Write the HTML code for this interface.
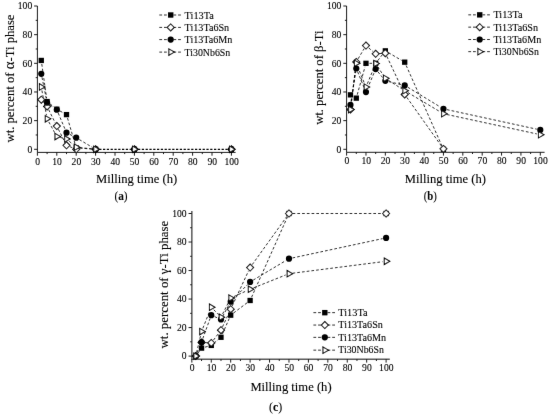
<!DOCTYPE html>
<html lang="en">
<head>
<meta charset="utf-8">
<title>Figure: wt. percent of Ti phases vs milling time</title>
<style>
html,body{margin:0;padding:0;background:#fff;}
body{width:550px;height:415px;overflow:hidden;}
svg{display:block;}
svg text{font-family:"Liberation Serif", "DejaVu Serif", serif;fill:#000;}
</style>
</head>
<body>
<svg width="550" height="415" viewBox="0 0 550 415">
<defs><filter id="soft" x="0" y="0" width="550" height="415" filterUnits="userSpaceOnUse"><feConvolveMatrix order="3" kernelMatrix="0.005 0.045 0.005 0.045 0.8 0.045 0.005 0.045 0.005" edgeMode="none" preserveAlpha="false"/></filter></defs>
<rect width="550" height="415" fill="#fff"/>
<g filter="url(#soft)">
<g id="chart-a">
<g stroke="#000" stroke-width="0.9" fill="none">
<path d="M37.4 6V152.4H235.6"/>
<path d="M37.4 149.3h-3.3M37.4 134.97h-1.7M37.4 120.64h-3.3M37.4 106.31h-1.7M37.4 91.98h-3.3M37.4 77.65h-1.7M37.4 63.32h-3.3M37.4 48.99h-1.7M37.4 34.66h-3.3M37.4 20.33h-1.7M37.4 6h-3.3M37.4 152.4v3.3M47.1 152.4v1.7M56.8 152.4v3.3M66.5 152.4v1.7M76.2 152.4v3.3M85.9 152.4v1.7M95.6 152.4v3.3M105.3 152.4v1.7M115 152.4v3.3M124.7 152.4v1.7M134.4 152.4v3.3M144.1 152.4v1.7M153.8 152.4v3.3M163.5 152.4v1.7M173.2 152.4v3.3M182.9 152.4v1.7M192.6 152.4v3.3M202.3 152.4v1.7M212 152.4v3.3M221.7 152.4v1.7M231.4 152.4v3.3"/>
</g>
<g font-size="9.6" stroke="#000" stroke-width="0.1">
<text transform="translate(32.2 152.65) scale(1 1.08)" text-anchor="end">0</text>
<text transform="translate(32.2 123.99) scale(1 1.08)" text-anchor="end">20</text>
<text transform="translate(32.2 95.33) scale(1 1.08)" text-anchor="end">40</text>
<text transform="translate(32.2 66.67) scale(1 1.08)" text-anchor="end">60</text>
<text transform="translate(32.2 38.01) scale(1 1.08)" text-anchor="end">80</text>
<text transform="translate(32.2 9.35) scale(1 1.08)" text-anchor="end">100</text>
<text transform="translate(37.6 164.5) scale(1 1.08)" text-anchor="middle">0</text>
<text transform="translate(57 164.5) scale(1 1.08)" text-anchor="middle">10</text>
<text transform="translate(76.4 164.5) scale(1 1.08)" text-anchor="middle">20</text>
<text transform="translate(95.8 164.5) scale(1 1.08)" text-anchor="middle">30</text>
<text transform="translate(115.2 164.5) scale(1 1.08)" text-anchor="middle">40</text>
<text transform="translate(134.6 164.5) scale(1 1.08)" text-anchor="middle">50</text>
<text transform="translate(154 164.5) scale(1 1.08)" text-anchor="middle">60</text>
<text transform="translate(173.4 164.5) scale(1 1.08)" text-anchor="middle">70</text>
<text transform="translate(192.8 164.5) scale(1 1.08)" text-anchor="middle">80</text>
<text transform="translate(212.2 164.5) scale(1 1.08)" text-anchor="middle">90</text>
<text transform="translate(231.6 164.5) scale(1 1.08)" text-anchor="middle">100</text>
</g>
<text transform="translate(13.9 78.5) rotate(-90)" font-size="12.6" text-anchor="middle" textLength="128" lengthAdjust="spacingAndGlyphs" stroke="#000" stroke-width="0.12">wt. percent of <tspan font-size="14.6">α</tspan>-Ti phase</text>
<text x="136.6" y="183.4" font-size="12.6" text-anchor="middle" textLength="81.2" lengthAdjust="spacingAndGlyphs" stroke="#000" stroke-width="0.12">Milling time (h)</text>
<text x="121" y="200" font-size="12" text-anchor="middle" textLength="13.2" lengthAdjust="spacingAndGlyphs" stroke="#000" stroke-width="0.08">(<tspan font-weight="bold">a</tspan>)</text>
<g fill="none" stroke="#000" stroke-width="0.82" stroke-dasharray="2.7 2.05">
<path d="M41.78 64.02L46.6 98.02"/>
<path d="M49.93 103.8L53.97 106.96"/>
<path d="M59.94 110.94L63.36 112.86"/>
<path d="M67.51 118.08L75.19 144.41"/>
<path d="M79.79 148.13L92.01 149.03"/>
</g>
<rect x="38.63" y="57.8" width="5.3" height="5.3" fill="#000"/>
<rect x="44.45" y="98.93" width="5.3" height="5.3" fill="#000"/>
<rect x="54.15" y="106.53" width="5.3" height="5.3" fill="#000"/>
<rect x="63.85" y="111.97" width="5.3" height="5.3" fill="#000"/>
<rect x="73.55" y="145.22" width="5.3" height="5.3" fill="#000"/>
<rect x="92.95" y="146.65" width="5.3" height="5.3" fill="#000"/>
<rect x="131.75" y="146.65" width="5.3" height="5.3" fill="#000"/>
<rect x="228.75" y="146.65" width="5.3" height="5.3" fill="#000"/>
<g fill="none" stroke="#000" stroke-width="0.82" stroke-dasharray="2.7 2.05">
<path d="M43.63 102.44L44.75 103.73"/>
<path d="M48.69 109.68L55.21 122.86"/>
<path d="M58.42 129.3L64.88 142.07"/>
<path d="M69.83 146.66L72.87 147.92"/>
</g>
<path d="M37.78 99.72L41.28 96.22L44.78 99.72L41.28 103.22Z" fill="#fff" stroke="#000" stroke-width="1.05"/>
<path d="M43.6 106.45L47.1 102.95L50.6 106.45L47.1 109.95Z" fill="#fff" stroke="#000" stroke-width="1.05"/>
<path d="M53.3 126.09L56.8 122.59L60.3 126.09L56.8 129.59Z" fill="#fff" stroke="#000" stroke-width="1.05"/>
<path d="M63 145.29L66.5 141.79L70 145.29L66.5 148.79Z" fill="#fff" stroke="#000" stroke-width="1.05"/>
<path d="M72.7 149.3L76.2 145.8L79.7 149.3L76.2 152.8Z" fill="#fff" stroke="#000" stroke-width="1.05"/>
<path d="M92.1 149.3L95.6 145.8L99.1 149.3L95.6 152.8Z" fill="#fff" stroke="#000" stroke-width="1.05"/>
<path d="M130.9 149.3L134.4 145.8L137.9 149.3L134.4 152.8Z" fill="#fff" stroke="#000" stroke-width="1.05"/>
<path d="M227.9 149.3L231.4 145.8L234.9 149.3L231.4 152.8Z" fill="#fff" stroke="#000" stroke-width="1.05"/>
<g fill="none" stroke="#000" stroke-width="0.82" stroke-dasharray="2.7 2.05">
<path d="M41.99 77.31L46.39 99.2"/>
<path d="M50.02 104.84L53.88 107.64"/>
<path d="M58.2 113.06L65.1 129.36"/>
<path d="M69.7 134.33L73 136.04"/>
<path d="M79.29 139.54L92.51 147.45"/>
</g>
<circle cx="41.28" cy="73.78" r="3.1" fill="#000"/>
<circle cx="47.1" cy="102.73" r="3.1" fill="#000"/>
<circle cx="56.8" cy="109.75" r="3.1" fill="#000"/>
<circle cx="66.5" cy="132.68" r="3.1" fill="#000"/>
<circle cx="76.2" cy="137.69" r="3.1" fill="#000"/>
<circle cx="95.6" cy="149.3" r="3.1" fill="#000"/>
<circle cx="134.4" cy="149.3" r="3.1" fill="#000"/>
<circle cx="231.4" cy="149.3" r="3.1" fill="#000"/>
<g fill="none" stroke="#000" stroke-width="0.82" stroke-dasharray="2.7 2.05">
<path d="M41.93 90.51L46.45 115.24"/>
<path d="M48.82 121.94L55.08 133.39"/>
<path d="M60.29 137.42L63.01 138.11"/>
<path d="M69.25 141.3L73.45 144.83"/>
<path d="M79.78 147.55L92.02 148.9"/>
<path d="M99.2 149.3L130.8 149.3" stroke-dasharray="2.25 1.55" stroke-width="1.15"/>
<path d="M138 149.3L227.8 149.3" stroke-dasharray="2.25 1.55" stroke-width="1.15"/>
</g>
<path d="M39.43 83.76L44.98 86.96L39.43 90.16Z" fill="#fff" stroke="#000" stroke-width="1.05" stroke-linejoin="miter"/>
<path d="M45.25 115.58L50.8 118.78L45.25 121.98Z" fill="#fff" stroke="#000" stroke-width="1.05" stroke-linejoin="miter"/>
<path d="M54.95 133.35L60.5 136.55L54.95 139.75Z" fill="#fff" stroke="#000" stroke-width="1.05" stroke-linejoin="miter"/>
<path d="M64.65 135.78L70.2 138.98L64.65 142.18Z" fill="#fff" stroke="#000" stroke-width="1.05" stroke-linejoin="miter"/>
<path d="M74.35 143.95L79.9 147.15L74.35 150.35Z" fill="#fff" stroke="#000" stroke-width="1.05" stroke-linejoin="miter"/>
<path d="M93.75 146.1L99.3 149.3L93.75 152.5Z" fill="#fff" stroke="#000" stroke-width="1.05" stroke-linejoin="miter"/>
<path d="M132.55 146.1L138.1 149.3L132.55 152.5Z" fill="#fff" stroke="#000" stroke-width="1.05" stroke-linejoin="miter"/>
<path d="M229.55 146.1L235.1 149.3L229.55 152.5Z" fill="#fff" stroke="#000" stroke-width="1.05" stroke-linejoin="miter"/>
<g font-size="10.2" stroke="#000" stroke-width="0.1">
<path d="M159.3 15H181.1" stroke-dasharray="2.8 1.9" stroke="#000" stroke-width="0.82" fill="none"/>
<rect x="168.05" y="12.35" width="5.3" height="5.3" fill="#000"/>
<text transform="translate(184.6 18.6)" textLength="29.3" lengthAdjust="spacingAndGlyphs">Ti13Ta</text>
<path d="M159.3 27.4H181.1" stroke-dasharray="2.8 1.9" stroke="#000" stroke-width="0.82" fill="none"/>
<path d="M167.2 27.4L170.7 23.9L174.2 27.4L170.7 30.9Z" fill="#fff" stroke="#000" stroke-width="1.05"/>
<text transform="translate(184.6 31)" textLength="44.6" lengthAdjust="spacingAndGlyphs">Ti13Ta6Sn</text>
<path d="M159.3 39.6H181.1" stroke-dasharray="2.8 1.9" stroke="#000" stroke-width="0.82" fill="none"/>
<circle cx="170.7" cy="39.6" r="3.1" fill="#000"/>
<text transform="translate(184.6 43.2)" textLength="47.8" lengthAdjust="spacingAndGlyphs">Ti13Ta6Mn</text>
<path d="M159.3 52.1H181.1" stroke-dasharray="2.8 1.9" stroke="#000" stroke-width="0.82" fill="none"/>
<path d="M168.85 48.9L174.4 52.1L168.85 55.3Z" fill="#fff" stroke="#000" stroke-width="1.05" stroke-linejoin="miter"/>
<text transform="translate(184.6 55.7)" textLength="45.6" lengthAdjust="spacingAndGlyphs">Ti30Nb6Sn</text>
</g>
</g>
<g id="chart-b">
<g stroke="#000" stroke-width="0.9" fill="none">
<path d="M346.6 6V152.3H544.6"/>
<path d="M346.6 149.3h-3.3M346.6 134.97h-1.7M346.6 120.64h-3.3M346.6 106.31h-1.7M346.6 91.98h-3.3M346.6 77.65h-1.7M346.6 63.32h-3.3M346.6 48.99h-1.7M346.6 34.66h-3.3M346.6 20.33h-1.7M346.6 6h-3.3M346.6 152.3v3.3M356.29 152.3v1.7M365.97 152.3v3.3M375.66 152.3v1.7M385.34 152.3v3.3M395.02 152.3v1.7M404.71 152.3v3.3M414.39 152.3v1.7M424.08 152.3v3.3M433.76 152.3v1.7M443.45 152.3v3.3M453.13 152.3v1.7M462.82 152.3v3.3M472.5 152.3v1.7M482.19 152.3v3.3M491.88 152.3v1.7M501.56 152.3v3.3M511.25 152.3v1.7M520.93 152.3v3.3M530.62 152.3v1.7M540.3 152.3v3.3"/>
</g>
<g font-size="9.6" stroke="#000" stroke-width="0.1">
<text transform="translate(341.4 152.65) scale(1 1.08)" text-anchor="end">0</text>
<text transform="translate(341.4 123.99) scale(1 1.08)" text-anchor="end">20</text>
<text transform="translate(341.4 95.33) scale(1 1.08)" text-anchor="end">40</text>
<text transform="translate(341.4 66.67) scale(1 1.08)" text-anchor="end">60</text>
<text transform="translate(341.4 38.01) scale(1 1.08)" text-anchor="end">80</text>
<text transform="translate(341.4 9.35) scale(1 1.08)" text-anchor="end">100</text>
<text transform="translate(346.8 164.4) scale(1 1.08)" text-anchor="middle">0</text>
<text transform="translate(366.17 164.4) scale(1 1.08)" text-anchor="middle">10</text>
<text transform="translate(385.54 164.4) scale(1 1.08)" text-anchor="middle">20</text>
<text transform="translate(404.91 164.4) scale(1 1.08)" text-anchor="middle">30</text>
<text transform="translate(424.28 164.4) scale(1 1.08)" text-anchor="middle">40</text>
<text transform="translate(443.65 164.4) scale(1 1.08)" text-anchor="middle">50</text>
<text transform="translate(463.02 164.4) scale(1 1.08)" text-anchor="middle">60</text>
<text transform="translate(482.39 164.4) scale(1 1.08)" text-anchor="middle">70</text>
<text transform="translate(501.76 164.4) scale(1 1.08)" text-anchor="middle">80</text>
<text transform="translate(521.13 164.4) scale(1 1.08)" text-anchor="middle">90</text>
<text transform="translate(540.5 164.4) scale(1 1.08)" text-anchor="middle">100</text>
</g>
<text transform="translate(322.5 77.7) rotate(-90)" font-size="12.6" text-anchor="middle" textLength="94.2" lengthAdjust="spacingAndGlyphs" stroke="#000" stroke-width="0.12">wt. percent of β-Ti</text>
<text x="445.4" y="183.2" font-size="12.6" text-anchor="middle" textLength="81.2" lengthAdjust="spacingAndGlyphs" stroke="#000" stroke-width="0.12">Milling time (h)</text>
<text x="430.3" y="200" font-size="12" text-anchor="middle" textLength="13.2" lengthAdjust="spacingAndGlyphs" stroke="#000" stroke-width="0.08">(<tspan font-weight="bold">b</tspan>)</text>
<g fill="none" stroke="#000" stroke-width="0.82" stroke-dasharray="2.7 2.05">
<path d="M357.25 94.67L365.01 66.79"/>
<path d="M369.57 63.32L372.06 63.32"/>
<path d="M377.86 60.48L383.13 53.7"/>
<path d="M388.45 52.67L401.6 60.36"/>
<path d="M406.17 65.46L441.99 146.01"/>
</g>
<rect x="347.82" y="92.2" width="5.3" height="5.3" fill="#000"/>
<rect x="353.64" y="95.49" width="5.3" height="5.3" fill="#000"/>
<rect x="363.32" y="60.67" width="5.3" height="5.3" fill="#000"/>
<rect x="373.01" y="60.67" width="5.3" height="5.3" fill="#000"/>
<rect x="382.69" y="48.2" width="5.3" height="5.3" fill="#000"/>
<rect x="402.06" y="59.52" width="5.3" height="5.3" fill="#000"/>
<rect x="440.8" y="146.65" width="5.3" height="5.3" fill="#000"/>
<g fill="none" stroke="#000" stroke-width="0.82" stroke-dasharray="2.7 2.05">
<path d="M350.91 106.03L355.85 65.46"/>
<path d="M358.12 58.79L364.13 48.65"/>
<path d="M368.7 47.9L372.92 51.52"/>
<path d="M379.25 53.6L381.75 53.41"/>
<path d="M386.87 56.4L403.18 91.16"/>
<path d="M406.8 97.35L441.36 145.94"/>
</g>
<path d="M346.97 109.61L350.47 106.11L353.97 109.61L350.47 113.11Z" fill="#fff" stroke="#000" stroke-width="1.05"/>
<path d="M352.79 61.89L356.29 58.39L359.79 61.89L356.29 65.39Z" fill="#fff" stroke="#000" stroke-width="1.05"/>
<path d="M362.47 45.55L365.97 42.05L369.47 45.55L365.97 49.05Z" fill="#fff" stroke="#000" stroke-width="1.05"/>
<path d="M372.16 53.86L375.66 50.36L379.16 53.86L375.66 57.36Z" fill="#fff" stroke="#000" stroke-width="1.05"/>
<path d="M381.84 53.15L385.34 49.65L388.84 53.15L385.34 56.65Z" fill="#fff" stroke="#000" stroke-width="1.05"/>
<path d="M401.21 94.42L404.71 90.92L408.21 94.42L404.71 97.92Z" fill="#fff" stroke="#000" stroke-width="1.05"/>
<path d="M439.95 148.87L443.45 145.37L446.95 148.87L443.45 152.37Z" fill="#fff" stroke="#000" stroke-width="1.05"/>
<g fill="none" stroke="#000" stroke-width="0.82" stroke-dasharray="2.7 2.05">
<path d="M351.04 101.32L355.72 72.03"/>
<path d="M357.65 71.81L364.61 88.79"/>
<path d="M367.36 88.8L374.26 72.37"/>
<path d="M377.94 71.83L383.05 78.02"/>
<path d="M388.84 81.63L401.21 84.56"/>
<path d="M407.79 87.26L440.37 107.02"/>
<path d="M446.97 109.65L536.78 129.19"/>
</g>
<circle cx="350.47" cy="104.88" r="3.1" fill="#000"/>
<circle cx="356.29" cy="68.48" r="3.1" fill="#000"/>
<circle cx="365.97" cy="92.12" r="3.1" fill="#000"/>
<circle cx="375.66" cy="69.05" r="3.1" fill="#000"/>
<circle cx="385.34" cy="80.8" r="3.1" fill="#000"/>
<circle cx="404.71" cy="85.39" r="3.1" fill="#000"/>
<circle cx="443.45" cy="108.89" r="3.1" fill="#000"/>
<circle cx="540.3" cy="129.95" r="3.1" fill="#000"/>
<g fill="none" stroke="#000" stroke-width="0.82" stroke-dasharray="2.7 2.05">
<path d="M350.92 106.03L355.84 66.89"/>
<path d="M357.64 66.65L364.61 83.77"/>
<path d="M367.34 83.78L374.28 66.94"/>
<path d="M377.63 66.62L383.37 75.36"/>
<path d="M388.38 80.3L401.67 88.76"/>
<path d="M407.8 92.53L440.36 111.92"/>
<path d="M446.97 114.52L536.78 133.92"/>
</g>
<path d="M348.62 106.41L354.17 109.61L348.62 112.81Z" fill="#fff" stroke="#000" stroke-width="1.05" stroke-linejoin="miter"/>
<path d="M354.44 60.12L359.99 63.32L354.44 66.52Z" fill="#fff" stroke="#000" stroke-width="1.05" stroke-linejoin="miter"/>
<path d="M364.12 83.91L369.67 87.11L364.12 90.31Z" fill="#fff" stroke="#000" stroke-width="1.05" stroke-linejoin="miter"/>
<path d="M373.81 60.41L379.36 63.61L373.81 66.81Z" fill="#fff" stroke="#000" stroke-width="1.05" stroke-linejoin="miter"/>
<path d="M383.49 75.17L389.04 78.37L383.49 81.57Z" fill="#fff" stroke="#000" stroke-width="1.05" stroke-linejoin="miter"/>
<path d="M402.86 87.49L408.41 90.69L402.86 93.89Z" fill="#fff" stroke="#000" stroke-width="1.05" stroke-linejoin="miter"/>
<path d="M441.6 110.56L447.15 113.76L441.6 116.96Z" fill="#fff" stroke="#000" stroke-width="1.05" stroke-linejoin="miter"/>
<path d="M538.45 131.48L544 134.68L538.45 137.88Z" fill="#fff" stroke="#000" stroke-width="1.05" stroke-linejoin="miter"/>
<g font-size="10.2" stroke="#000" stroke-width="0.1">
<path d="M468.3 14.85H490.1" stroke-dasharray="2.8 1.9" stroke="#000" stroke-width="0.82" fill="none"/>
<rect x="477.05" y="12.2" width="5.3" height="5.3" fill="#000"/>
<text transform="translate(493.4 18.45)" textLength="29.3" lengthAdjust="spacingAndGlyphs">Ti13Ta</text>
<path d="M468.3 27.15H490.1" stroke-dasharray="2.8 1.9" stroke="#000" stroke-width="0.82" fill="none"/>
<path d="M476.2 27.15L479.7 23.65L483.2 27.15L479.7 30.65Z" fill="#fff" stroke="#000" stroke-width="1.05"/>
<text transform="translate(493.4 30.75)" textLength="44.6" lengthAdjust="spacingAndGlyphs">Ti13Ta6Sn</text>
<path d="M468.3 39.5H490.1" stroke-dasharray="2.8 1.9" stroke="#000" stroke-width="0.82" fill="none"/>
<circle cx="479.7" cy="39.5" r="3.1" fill="#000"/>
<text transform="translate(493.4 43.1)" textLength="47.8" lengthAdjust="spacingAndGlyphs">Ti13Ta6Mn</text>
<path d="M468.3 51.65H490.1" stroke-dasharray="2.8 1.9" stroke="#000" stroke-width="0.82" fill="none"/>
<path d="M477.85 48.45L483.4 51.65L477.85 54.85Z" fill="#fff" stroke="#000" stroke-width="1.05" stroke-linejoin="miter"/>
<text transform="translate(493.4 55.25)" textLength="45.6" lengthAdjust="spacingAndGlyphs">Ti30Nb6Sn</text>
</g>
</g>
<g id="chart-c">
<g stroke="#000" stroke-width="0.9" fill="none">
<path d="M191.85 210.9V359.3H389.8" stroke="#5a5a5a" stroke-width="1.5"/>
<path d="M191.85 356.1h-3.3M191.85 341.84h-1.7M191.85 327.58h-3.3M191.85 313.32h-1.7M191.85 299.06h-3.3M191.85 284.8h-1.7M191.85 270.54h-3.3M191.85 256.28h-1.7M191.85 242.02h-3.3M191.85 227.76h-1.7M191.85 213.5h-3.3M191.85 359.3v3.3M201.56 359.3v1.7M211.28 359.3v3.3M220.99 359.3v1.7M230.7 359.3v3.3M240.41 359.3v1.7M250.12 359.3v3.3M259.84 359.3v1.7M269.55 359.3v3.3M279.26 359.3v1.7M288.98 359.3v3.3M298.69 359.3v1.7M308.4 359.3v3.3M318.11 359.3v1.7M327.83 359.3v3.3M337.54 359.3v1.7M347.25 359.3v3.3M356.96 359.3v1.7M366.68 359.3v3.3M376.39 359.3v1.7M386.1 359.3v3.3"/>
</g>
<g font-size="9.6" stroke="#000" stroke-width="0.1">
<text transform="translate(186.65 359.45) scale(1 1.08)" text-anchor="end">0</text>
<text transform="translate(186.65 330.93) scale(1 1.08)" text-anchor="end">20</text>
<text transform="translate(186.65 302.41) scale(1 1.08)" text-anchor="end">40</text>
<text transform="translate(186.65 273.89) scale(1 1.08)" text-anchor="end">60</text>
<text transform="translate(186.65 245.37) scale(1 1.08)" text-anchor="end">80</text>
<text transform="translate(186.65 216.85) scale(1 1.08)" text-anchor="end">100</text>
<text transform="translate(192.05 371.4) scale(1 1.08)" text-anchor="middle">0</text>
<text transform="translate(211.47 371.4) scale(1 1.08)" text-anchor="middle">10</text>
<text transform="translate(230.9 371.4) scale(1 1.08)" text-anchor="middle">20</text>
<text transform="translate(250.32 371.4) scale(1 1.08)" text-anchor="middle">30</text>
<text transform="translate(269.75 371.4) scale(1 1.08)" text-anchor="middle">40</text>
<text transform="translate(289.18 371.4) scale(1 1.08)" text-anchor="middle">50</text>
<text transform="translate(308.6 371.4) scale(1 1.08)" text-anchor="middle">60</text>
<text transform="translate(328.03 371.4) scale(1 1.08)" text-anchor="middle">70</text>
<text transform="translate(347.45 371.4) scale(1 1.08)" text-anchor="middle">80</text>
<text transform="translate(366.88 371.4) scale(1 1.08)" text-anchor="middle">90</text>
<text transform="translate(386.3 371.4) scale(1 1.08)" text-anchor="middle">100</text>
</g>
<text transform="translate(167.6 284.6) rotate(-90)" font-size="12.6" text-anchor="middle" textLength="127.7" lengthAdjust="spacingAndGlyphs" stroke="#000" stroke-width="0.12">wt. percent of γ-Ti phase</text>
<text x="291" y="390.6" font-size="12.6" text-anchor="middle" textLength="81.2" lengthAdjust="spacingAndGlyphs" stroke="#000" stroke-width="0.12">Milling time (h)</text>
<text x="275.7" y="410.6" font-size="12" text-anchor="middle" textLength="13.2" lengthAdjust="spacingAndGlyphs" stroke="#000" stroke-width="0.08">(<tspan font-weight="bold">c</tspan>)</text>
<g fill="none" stroke="#000" stroke-width="0.82" stroke-dasharray="2.7 2.05">
<path d="M197.86 353.19L199.44 351.02"/>
<path d="M205.03 347.15L207.81 346.37"/>
<path d="M214.04 343.09L218.23 339.59"/>
<path d="M222.44 333.98L229.25 318.47"/>
<path d="M233.57 313L247.25 302.66"/>
<path d="M251.59 297.2L287.51 216.79"/>
<path d="M292.58 213.5L382.5 213.5"/>
</g>
<rect x="193.08" y="353.45" width="5.3" height="5.3" fill="#000"/>
<rect x="198.91" y="345.46" width="5.3" height="5.3" fill="#000"/>
<rect x="208.62" y="342.76" width="5.3" height="5.3" fill="#000"/>
<rect x="218.34" y="334.63" width="5.3" height="5.3" fill="#000"/>
<rect x="228.05" y="312.52" width="5.3" height="5.3" fill="#000"/>
<rect x="247.47" y="297.84" width="5.3" height="5.3" fill="#000"/>
<rect x="286.33" y="210.85" width="5.3" height="5.3" fill="#000"/>
<rect x="383.45" y="210.85" width="5.3" height="5.3" fill="#000"/>
<g fill="none" stroke="#000" stroke-width="0.82" stroke-dasharray="2.7 2.05">
<path d="M197.15 352.79L200.15 345.72"/>
<path d="M205.16 342.62L207.68 342.77"/>
<path d="M213.45 340.11L218.82 333.02"/>
<path d="M222.5 326.88L229.19 312.45"/>
<path d="M232.22 305.92L248.6 270.81"/>
<path d="M252.23 264.62L286.87 216.42"/>
</g>
<path d="M192.23 356.1L195.73 352.6L199.23 356.1L195.73 359.6Z" fill="#fff" stroke="#000" stroke-width="1.05"/>
<path d="M198.06 342.41L201.56 338.91L205.06 342.41L201.56 345.91Z" fill="#fff" stroke="#000" stroke-width="1.05"/>
<path d="M207.78 342.98L211.28 339.48L214.78 342.98L211.28 346.48Z" fill="#fff" stroke="#000" stroke-width="1.05"/>
<path d="M217.49 330.15L220.99 326.65L224.49 330.15L220.99 333.65Z" fill="#fff" stroke="#000" stroke-width="1.05"/>
<path d="M227.2 309.18L230.7 305.68L234.2 309.18L230.7 312.68Z" fill="#fff" stroke="#000" stroke-width="1.05"/>
<path d="M246.62 267.55L250.12 264.05L253.62 267.55L250.12 271.05Z" fill="#fff" stroke="#000" stroke-width="1.05"/>
<path d="M285.48 213.5L288.98 210L292.48 213.5L288.98 217Z" fill="#fff" stroke="#000" stroke-width="1.05"/>
<path d="M382.6 213.5L386.1 210L389.6 213.5L386.1 217Z" fill="#fff" stroke="#000" stroke-width="1.05"/>
<g fill="none" stroke="#000" stroke-width="0.82" stroke-dasharray="2.7 2.05">
<path d="M202.79 338.6L210.05 318.56"/>
<path d="M214.57 316.62L217.69 318"/>
<path d="M222.71 316.29L228.98 304.79"/>
<path d="M233.23 299.06L247.6 284.51"/>
<path d="M253.21 280.1L285.89 260.55"/>
<path d="M292.5 257.95L382.58 238.64"/>
</g>
<circle cx="195.73" cy="356.1" r="3.1" fill="#000"/>
<circle cx="201.56" cy="341.98" r="3.1" fill="#000"/>
<circle cx="211.28" cy="315.17" r="3.1" fill="#000"/>
<circle cx="220.99" cy="319.45" r="3.1" fill="#000"/>
<circle cx="230.7" cy="301.63" r="3.1" fill="#000"/>
<circle cx="250.12" cy="281.95" r="3.1" fill="#000"/>
<circle cx="288.98" cy="258.7" r="3.1" fill="#000"/>
<circle cx="386.1" cy="237.88" r="3.1" fill="#000"/>
<g fill="none" stroke="#000" stroke-width="0.82" stroke-dasharray="2.7 2.05">
<path d="M196.57 352.6L200.73 335.08"/>
<path d="M202.89 328.23L209.94 310.53"/>
<path d="M213.79 309.77L218.48 314.59"/>
<path d="M222.62 313.96L229.07 301.27"/>
<path d="M233.98 296.57L246.85 290.71"/>
<path d="M253.47 287.88L285.63 275.01"/>
<path d="M292.55 273.22L382.53 261.73"/>
</g>
<path d="M193.88 352.9L199.43 356.1L193.88 359.3Z" fill="#fff" stroke="#000" stroke-width="1.05" stroke-linejoin="miter"/>
<path d="M199.71 328.37L205.26 331.57L199.71 334.77Z" fill="#fff" stroke="#000" stroke-width="1.05" stroke-linejoin="miter"/>
<path d="M209.43 303.99L214.97 307.19L209.43 310.39Z" fill="#fff" stroke="#000" stroke-width="1.05" stroke-linejoin="miter"/>
<path d="M219.14 313.97L224.69 317.17L219.14 320.37Z" fill="#fff" stroke="#000" stroke-width="1.05" stroke-linejoin="miter"/>
<path d="M228.85 294.86L234.4 298.06L228.85 301.26Z" fill="#fff" stroke="#000" stroke-width="1.05" stroke-linejoin="miter"/>
<path d="M248.28 286.02L253.82 289.22L248.28 292.42Z" fill="#fff" stroke="#000" stroke-width="1.05" stroke-linejoin="miter"/>
<path d="M287.12 270.48L292.68 273.68L287.12 276.88Z" fill="#fff" stroke="#000" stroke-width="1.05" stroke-linejoin="miter"/>
<path d="M384.25 258.07L389.8 261.27L384.25 264.47Z" fill="#fff" stroke="#000" stroke-width="1.05" stroke-linejoin="miter"/>
<g font-size="10.2" stroke="#000" stroke-width="0.1">
<path d="M313.4 312.65H335.2" stroke-dasharray="2.8 1.9" stroke="#000" stroke-width="0.82" fill="none"/>
<rect x="322.15" y="310" width="5.3" height="5.3" fill="#000"/>
<text transform="translate(338.3 315.85)" textLength="29.3" lengthAdjust="spacingAndGlyphs">Ti13Ta</text>
<path d="M313.4 325.05H335.2" stroke-dasharray="2.8 1.9" stroke="#000" stroke-width="0.82" fill="none"/>
<path d="M321.3 325.05L324.8 321.55L328.3 325.05L324.8 328.55Z" fill="#fff" stroke="#000" stroke-width="1.05"/>
<text transform="translate(338.3 328.25)" textLength="44.6" lengthAdjust="spacingAndGlyphs">Ti13Ta6Sn</text>
<path d="M313.4 337.35H335.2" stroke-dasharray="2.8 1.9" stroke="#000" stroke-width="0.82" fill="none"/>
<circle cx="324.8" cy="337.35" r="3.1" fill="#000"/>
<text transform="translate(338.3 340.55)" textLength="47.8" lengthAdjust="spacingAndGlyphs">Ti13Ta6Mn</text>
<path d="M313.4 350.15H335.2" stroke-dasharray="2.8 1.9" stroke="#000" stroke-width="0.82" fill="none"/>
<path d="M322.95 346.95L328.5 350.15L322.95 353.35Z" fill="#fff" stroke="#000" stroke-width="1.05" stroke-linejoin="miter"/>
<text transform="translate(338.3 353.35)" textLength="45.6" lengthAdjust="spacingAndGlyphs">Ti30Nb6Sn</text>
</g>
</g>
</g>
</svg>
</body>
</html>
